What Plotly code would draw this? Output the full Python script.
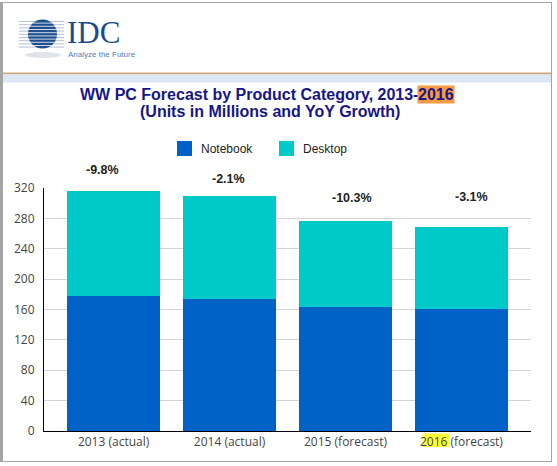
import plotly.graph_objects as go

# ---------------- data ----------------
categories = ["2013 (actual)", "2014 (actual)", "2015 (forecast)", "2016 (forecast)"]
notebook = [178, 174, 163, 161]
desktop = [138, 135, 114, 108]
growth_labels = ["-9.8%", "-2.1%", "-10.3%", "-3.1%"]
series_names = ["Notebook", "Desktop"]

# label nudges in pixels (style only)
label_dx = [-11, -1, 7, 10]
label_dy = [21, 17, 23, 30]

W, H = 557, 466
L, R, T, B = 44, 531, 188, 431  # plot area in pixels


def px(x):
    return (x - L) / (R - L)


def py(y):
    return (B - y) / (B - T)


NOTEBOOK_C = "#0062c6"
DESKTOP_C = "#00c9c9"
NAVY = "#16168a"
colors = [NOTEBOOK_C, DESKTOP_C]

fig = go.Figure()
fig.add_trace(go.Bar(x=categories, y=notebook, name=series_names[0], showlegend=False,
                     marker=dict(color=NOTEBOOK_C, line=dict(width=0))))
fig.add_trace(go.Bar(x=categories, y=desktop, name=series_names[1], showlegend=False,
                     marker=dict(color=DESKTOP_C, line=dict(width=0))))

totals = [n + d for n, d in zip(notebook, desktop)]

annotations = []
for c, t, lab, dx, dy in zip(categories, totals, growth_labels, label_dx, label_dy):
    annotations.append(dict(x=c, y=t, xref="x", yref="y", text="<b>" + lab + "</b>",
                            showarrow=False, xanchor="center", yanchor="middle",
                            xshift=dx, yshift=dy,
                            font=dict(family="Arial, Liberation Sans", size=12.5, color="#222222")))

# Title (split so that "2016" gets its highlight)
split_x = 416.7
annotations.append(dict(x=px(split_x + 2), y=py(94.5), xref="paper", yref="paper",
                        text="<b>WW PC Forecast by Product Category, 2013-</b>", borderpad=0,
                        showarrow=False, xanchor="right", yanchor="middle",
                        font=dict(family="Arial, Liberation Sans", size=16, color=NAVY)))
annotations.append(dict(x=px(split_x), y=py(94.5), xref="paper", yref="paper",
                        text="<b>2016</b>", bgcolor="#f79a46", borderpad=0,
                        showarrow=False, xanchor="left", yanchor="middle",
                        font=dict(family="Arial, Liberation Sans", size=16, color=NAVY)))
annotations.append(dict(x=px(270), y=py(111), xref="paper", yref="paper",
                        text="<b>(Units in Millions and YoY Growth)</b>",
                        showarrow=False, xanchor="center", yanchor="middle",
                        font=dict(family="Arial, Liberation Sans", size=16, color=NAVY)))

# Logo text
annotations.append(dict(x=px(66), y=py(33), xref="paper", yref="paper",
                        text="IDC", showarrow=False, xanchor="left", yanchor="middle", borderpad=0,
                        font=dict(family="Liberation Serif, Times New Roman", size=31, color="#1b4c8a")))
annotations.append(dict(x=px(67), y=py(55), xref="paper", yref="paper",
                        text="Analyze the Future", showarrow=False, xanchor="left", yanchor="middle",
                        borderpad=0,
                        font=dict(family="Liberation Sans Narrow, Arial Narrow, Arial", size=8,
                                  color="#4f80c0")))

shapes = []

# legend (drawn manually to get the larger square swatches)
legend_sq_x = [177, 279]
for name, col, sx in zip(series_names, colors, legend_sq_x):
    shapes.append(dict(type="rect", xref="paper", yref="paper", x0=px(sx), x1=px(sx + 15),
                       y0=py(156), y1=py(141), fillcolor=col, line=dict(width=0)))
    annotations.append(dict(x=px(sx + 23), y=py(148.5), xref="paper", yref="paper", text=name,
                            showarrow=False, xanchor="left", yanchor="middle", borderpad=0,
                            font=dict(family="Arial, Liberation Sans", size=12, color="#222222")))

GRAY = "#a4a4a4"
# frame
shapes.append(dict(type="rect", xref="paper", yref="paper", x0=px(0), x1=px(3), y0=py(462), y1=py(2),
                   fillcolor=GRAY, line=dict(width=0), layer="below"))
shapes.append(dict(type="line", xref="paper", yref="paper", x0=px(0), x1=px(552), y0=py(2.5), y1=py(2.5),
                   line=dict(color=GRAY, width=1), layer="below"))
shapes.append(dict(type="line", xref="paper", yref="paper", x0=px(551.5), x1=px(551.5), y0=py(2), y1=py(462),
                   line=dict(color=GRAY, width=1), layer="below"))
shapes.append(dict(type="line", xref="paper", yref="paper", x0=px(0), x1=px(552), y0=py(461.5), y1=py(461.5),
                   line=dict(color=GRAY, width=1), layer="below"))
# header separator
shapes.append(dict(type="line", xref="paper", yref="paper", x0=px(3), x1=px(551), y0=py(73.5), y1=py(73.5),
                   line=dict(color="#cda982", width=2), layer="below"))
shapes.append(dict(type="rect", xref="paper", yref="paper", x0=px(3), x1=px(551), y0=py(82.5), y1=py(74.5),
                   fillcolor="#dbe7f5", line=dict(width=0), layer="below"))
# highlight behind "2016" in the x tick label
shapes.append(dict(type="rect", xref="paper", yref="paper", x0=px(422.5), x1=px(449.5), y0=py(447), y1=py(433.5),
                   fillcolor="#ffff33", line=dict(width=0), layer="below"))

# logo sphere
shapes.append(dict(type="circle", xref="paper", yref="paper", x0=px(25), x1=px(61), y0=py(58), y1=py(52),
                   fillcolor="#dfe3ea", line=dict(width=0), layer="below"))
for k in range(9):
    yy = 21.5 + k * 3.2
    shapes.append(dict(type="line", xref="paper", yref="paper", x0=px(19), x1=px(64), y0=py(yy), y1=py(yy),
                       line=dict(color="#b4c0d4", width=1), layer="below"))
shapes.append(dict(type="circle", xref="paper", yref="paper", x0=px(28), x1=px(57), y0=py(48.5), y1=py(19.5),
                   fillcolor="#1f4f8e", line=dict(width=0), layer="below"))
cx, cy, r = 42.5, 34.0, 14.5
for k in range(9):
    yy = 21.5 + k * 3.2 + 1.6
    d = abs(yy - cy)
    if d < r:
        half = (r * r - d * d) ** 0.5
        shapes.append(dict(type="line", xref="paper", yref="paper", x0=px(cx - half), x1=px(cx + half),
                           y0=py(yy), y1=py(yy), line=dict(color="#ffffff", width=0.8), layer="below"))

fig.update_layout(
    width=W, height=H, autosize=False,
    margin=dict(l=L, r=W - R, t=T, b=H - B, pad=0),
    paper_bgcolor="white", plot_bgcolor="white",
    barmode="stack", bargap=0.2,
    showlegend=False,
    annotations=annotations,
    shapes=shapes,
    xaxis=dict(showline=True, linecolor="#000000", linewidth=1, showgrid=False, ticks="",
               range=[-0.6, 3.6],
               tickfont=dict(family="Open Sans, Segoe UI, Arial", size=12, color="#444444"),
               fixedrange=True),
    yaxis=dict(range=[0, 320], dtick=40, tick0=0, showline=True, linecolor="#000000", linewidth=1,
               showgrid=True, gridcolor="#d4d4d4", gridwidth=1, zeroline=False, ticks="",
               ticklabelstandoff=6,
               tickfont=dict(family="Open Sans, Segoe UI, Arial", size=12, color="#444444"),
               fixedrange=True),
)

fig.write_html(
    "out.html",
    config={"displayModeBar": False},
    post_script="document.body.style.margin='0';document.body.style.overflow='hidden';",
)
